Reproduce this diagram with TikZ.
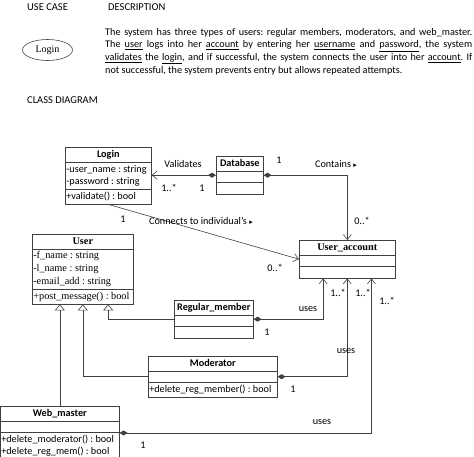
\documentclass[tikz,border=0pt]{standalone}
\usepackage{fontspec}
\setmainfont{Carlito}
\newfontfamily\tms{Liberation Serif}
\newfontfamily\trifont{DejaVu Sans}
\usetikzlibrary{shapes.multipart,shapes.geometric,arrows.meta,calc}
\newcommand{\rs}{\rule[-3pt]{0pt}{11pt}}
\newcommand{\tri}{{\trifont\fontsize{7}{7}\selectfont ▸}}
\frenchspacing

\begin{document}
\begin{tikzpicture}[x=1pt,y=-1pt,
        umlclass/.style={
            rectangle split,
            rectangle split parts=3,
            rectangle split part align={center,left,left},
            rectangle split empty part height=6pt,
            rectangle split empty part depth=2pt,
            draw=black!75,
            line width=0.6pt,
            inner xsep=1pt,
            inner ysep=1.5pt,
            align=left,
            anchor=north west,
            font=\fontsize{10.2}{12.5}\selectfont,
        },
        serif/.style={font=\tms\fontsize{10.3}{13}\selectfont},
        assoc/.style={
            draw=black!75,
            line width=0.6pt,
            {Diamond[length=8pt,width=5pt]}-{Straight Barb[length=5pt,width=8pt]},
        },
        navline/.style={
            draw=black!75,
            line width=0.6pt,
            -{Straight Barb[length=5pt,width=8pt]},
        },
        gen/.style={
            draw=black!75,
            line width=0.6pt,
            -{Triangle[open,length=6pt,width=10pt,fill=white]},
        },
        lbl/.style={font=\fontsize{10.2}{12}\selectfont, inner sep=0pt},
        head/.style={font=\fontsize{10.5}{12}\selectfont, inner sep=0pt, anchor=west},
    ]
    \clip (0,0) rectangle (474,457);

    % use case part
    \node[head] (hduse) at (27,7.5) {USE CASE};
    \node[head] (hddesc) at (108,7.5) {DESCRIPTION};
    \node[ellipse, draw=black!75, line width=0.6pt, minimum width=50pt,
        minimum height=21pt, inner sep=0pt,
        font=\tms\fontsize{10}{11}\selectfont] (uc) at (47.5,50) {Login};
    \node[anchor=north west, inner sep=0pt, text width=367pt, align=justify,
        font=\fontsize{10.2}{12.6}\selectfont] (desc) at (105,28)
        {The system has three types of users: regular members, moderators, and web\_master.\linebreak
        The \underline{user} logs into her \underline{account} by entering her \underline{username} and \underline{password}, the system\linebreak
        \underline{validates} the \underline{login}, and if successful, the system connects the user into her \underline{account}. If\linebreak
        not successful, the system prevents entry but allows repeated attempts.};
    \node[head] (hdclass) at (27,100) {CLASS DIAGRAM};

    % classes
    \node[umlclass, minimum width=86pt] (login) at (65,147.5)
        {\rs\textbf{Login}
        \nodepart{second}\rs-user\_name : string\\\rs-password : string
        \nodepart{third}\rs+validate() : bool};
    \node[umlclass, minimum width=47pt] (db) at (216,156)
        {\rs\textbf{Database}\nodepart{second}\nodepart{third}};
    \node[umlclass, serif, minimum width=96pt] (ua) at (299,240)
        {\rs\textbf{User\_account}\nodepart{second}\nodepart{third}};
    \node[umlclass, serif, minimum width=101pt] (user) at (32,234)
        {\rs\textbf{User}
        \nodepart{second}\rs-f\_name : string\\\rs-l\_name : string\\\rs-email\_add : string
        \nodepart{third}\rs+post\_message() : bool};
    \node[umlclass, minimum width=79pt] (reg) at (174,300)
        {\rs\textbf{Regular\_member}\nodepart{second}\nodepart{third}};
    \node[umlclass, minimum width=129pt] (mod) at (148,356)
        {\rs\textbf{Moderator}\nodepart{second}
        \nodepart{third}\rs+delete\_reg\_member() : bool};
    \node[umlclass, minimum width=119pt] (web) at (0,406)
        {\rs\textbf{Web\_master}\nodepart{second}
        \nodepart{third}\rs+delete\_moderator() : bool\\\rs+delete\_reg\_mem() : bool};

    % associations
    \draw[assoc] (db.west) -- (db.west -| login.east);
    \draw[assoc] (db.east) -| (ua.north);
    \draw[navline] (login.south) -- (ua.west);
    \draw[assoc] (reg.east) -| ($(ua.south west)!0.25!(ua.south east)$);
    \draw[assoc] (mod.east) -| (ua.south);
    \draw[assoc] (web.east) -| ($(ua.south west)!0.75!(ua.south east)$);

    % generalisations
    \draw[gen] (reg.west) -| ($(user.south west)!0.75!(user.south east)$);
    \draw[gen] (mod.west) -| (user.south);
    \draw[gen] (web.north) -- (web.north |- user.south);

    % labels
    \node[lbl] (lval) at (183,164) {Validates};
    \node[lbl] (lvalm) at (169,188) {1..*};
    \node[lbl] (lvalo) at (202,188) {1};
    \node[lbl] (lcono) at (279,160) {1};
    \node[lbl] (lcon) at (336,164) {Contains \tri};
    \node[lbl] (lconm) at (362,221) {0..*};
    \node[lbl] (lcnco) at (123,219) {1};
    \node[lbl] (lcnc) at (201,221) {Connects to individual's \tri};
    \node[lbl] (lcncm) at (275,268) {0..*};
    \node[lbl] (lureg) at (308,309) {uses};
    \node[lbl] (luregi) at (267,332) {1};
    \node[lbl] (luregm) at (338,293) {1..*};
    \node[lbl] (lumodm) at (363,293) {1..*};
    \node[lbl] (luwebm) at (387,301) {1..*};
    \node[lbl] (lumod) at (346,351) {uses};
    \node[lbl] (lumodi) at (293,389) {1};
    \node[lbl] (luweb) at (322,422) {uses};
    \node[lbl] (luwebi) at (143,445) {1};
\end{tikzpicture}
\end{document}
